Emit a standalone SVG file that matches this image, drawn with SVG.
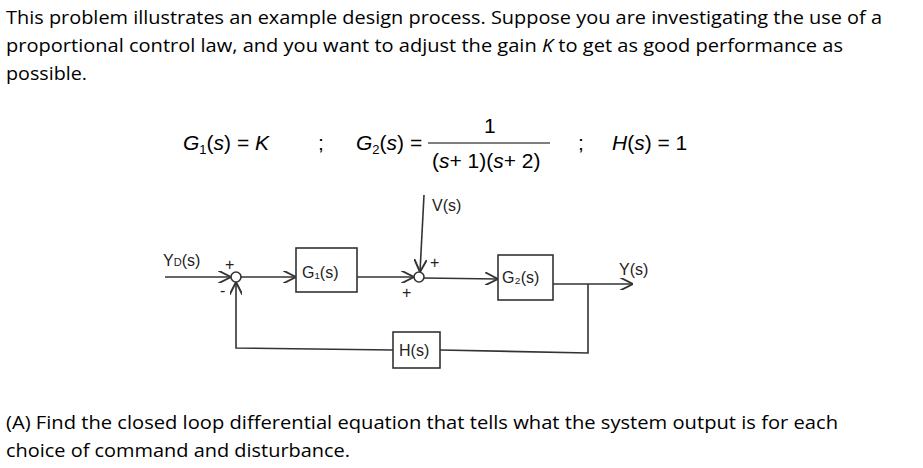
<svg xmlns="http://www.w3.org/2000/svg" width="923" height="468" viewBox="0 0 923 468">
<defs>
<style>
.t{font-family:"Open Sans","Liberation Sans",sans-serif;font-size:19px;fill:#000}
.m{font-family:"Liberation Sans",sans-serif;font-size:21px;fill:#000;font-style:italic}
.n{font-style:normal}
.h{font-family:"Liberation Sans",sans-serif;font-size:16px;fill:#222}
.l{stroke:#333;stroke-width:1.6;fill:none}
</style>
<marker id="a" viewBox="0 0 10 10" refX="10" refY="5" markerWidth="8" markerHeight="8" orient="auto"><path d="M0,0 L10,5 L0,10" fill="none" stroke="#333" stroke-width="1.5"/></marker>
</defs>
<rect width="923" height="468" fill="#fff"/>
<text class="t" x="6" y="24" textLength="876" lengthAdjust="spacingAndGlyphs">This problem illustrates an example design process. Suppose you are investigating the use of a</text>
<text class="t" x="6" y="52" textLength="837" lengthAdjust="spacingAndGlyphs">proportional control law, and you want to adjust the gain <tspan font-style="italic">K</tspan> to get as good performance as</text>
<text class="t" x="6" y="80" textLength="81" lengthAdjust="spacingAndGlyphs">possible.</text>
<text class="m" x="183" y="150">G<tspan class="n" font-size="13" dy="4">1</tspan><tspan class="n" dy="-4">(</tspan><tspan dy="0">s</tspan><tspan class="n">) = </tspan>K</text>
<text class="m" x="318" y="150"><tspan class="n">;</tspan></text>
<text class="m" x="356" y="150">G<tspan class="n" font-size="13" dy="4">2</tspan><tspan class="n" dy="-4">(</tspan>s<tspan class="n">) =</tspan></text>
<text class="m" x="484" y="133"><tspan class="n">1</tspan></text>
<line x1="428" y1="143" x2="550" y2="143" stroke="#000" stroke-width="1.2"/>
<text class="m" x="432" y="168"><tspan class="n">(</tspan>s<tspan class="n">+ 1)(</tspan>s<tspan class="n">+ 2)</tspan></text>
<text class="m" x="578" y="150"><tspan class="n">;</tspan></text>
<text class="m" x="612" y="150">H<tspan class="n">(</tspan>s<tspan class="n">) = 1</tspan></text>
<g id="sum1"><circle cx="236" cy="277" r="5" class="l"/><text class="h" x="225" y="270">+</text><text class="h" x="220" y="296">-</text></g>
<g id="G1"><rect x="296" y="248" width="61" height="44" class="l"/><text class="h" x="302" y="278">G₁(s)</text></g>
<g id="sum2"><circle cx="419" cy="277" r="5" class="l"/><text class="h" x="430" y="268">+</text><text class="h" x="402" y="298">+</text></g>
<g id="G2"><rect x="498" y="255" width="55" height="45" class="l"/><text class="h" x="502" y="283">G₂(s)</text></g>
<g id="H"><rect x="393" y="332" width="47" height="36" class="l"/><text class="h" x="399" y="356">H(s)</text></g>
<text class="h" x="163" y="266">Y<tspan font-size="11">D</tspan>(s)</text>
<text class="h" x="432" y="211">V(s)</text>
<text class="h" x="619" y="275">Y(s)</text>
<g id="connectors">
<line x1="165" y1="277" x2="231" y2="277" class="l" marker-end="url(#a)"/>
<line x1="241" y1="277" x2="296" y2="277" class="l" marker-end="url(#a)"/>
<line x1="357" y1="277" x2="414" y2="277" class="l" marker-end="url(#a)"/>
<line x1="424" y1="195" x2="420" y2="272" class="l" marker-end="url(#a)"/>
<line x1="424" y1="278" x2="498" y2="279" class="l" marker-end="url(#a)"/>
<line x1="553" y1="284" x2="633" y2="284" class="l" marker-end="url(#a)"/>
<polyline points="588,284 588,353 440,350" class="l"/>
<polyline points="393,350 236,348 236,282" class="l" marker-end="url(#a)"/>
</g>
<text class="t" x="6" y="429" textLength="832" lengthAdjust="spacingAndGlyphs">(A) Find the closed loop differential equation that tells what the system output is for each</text>
<text class="t" x="6" y="457" textLength="344" lengthAdjust="spacingAndGlyphs">choice of command and disturbance.</text>
</svg>
